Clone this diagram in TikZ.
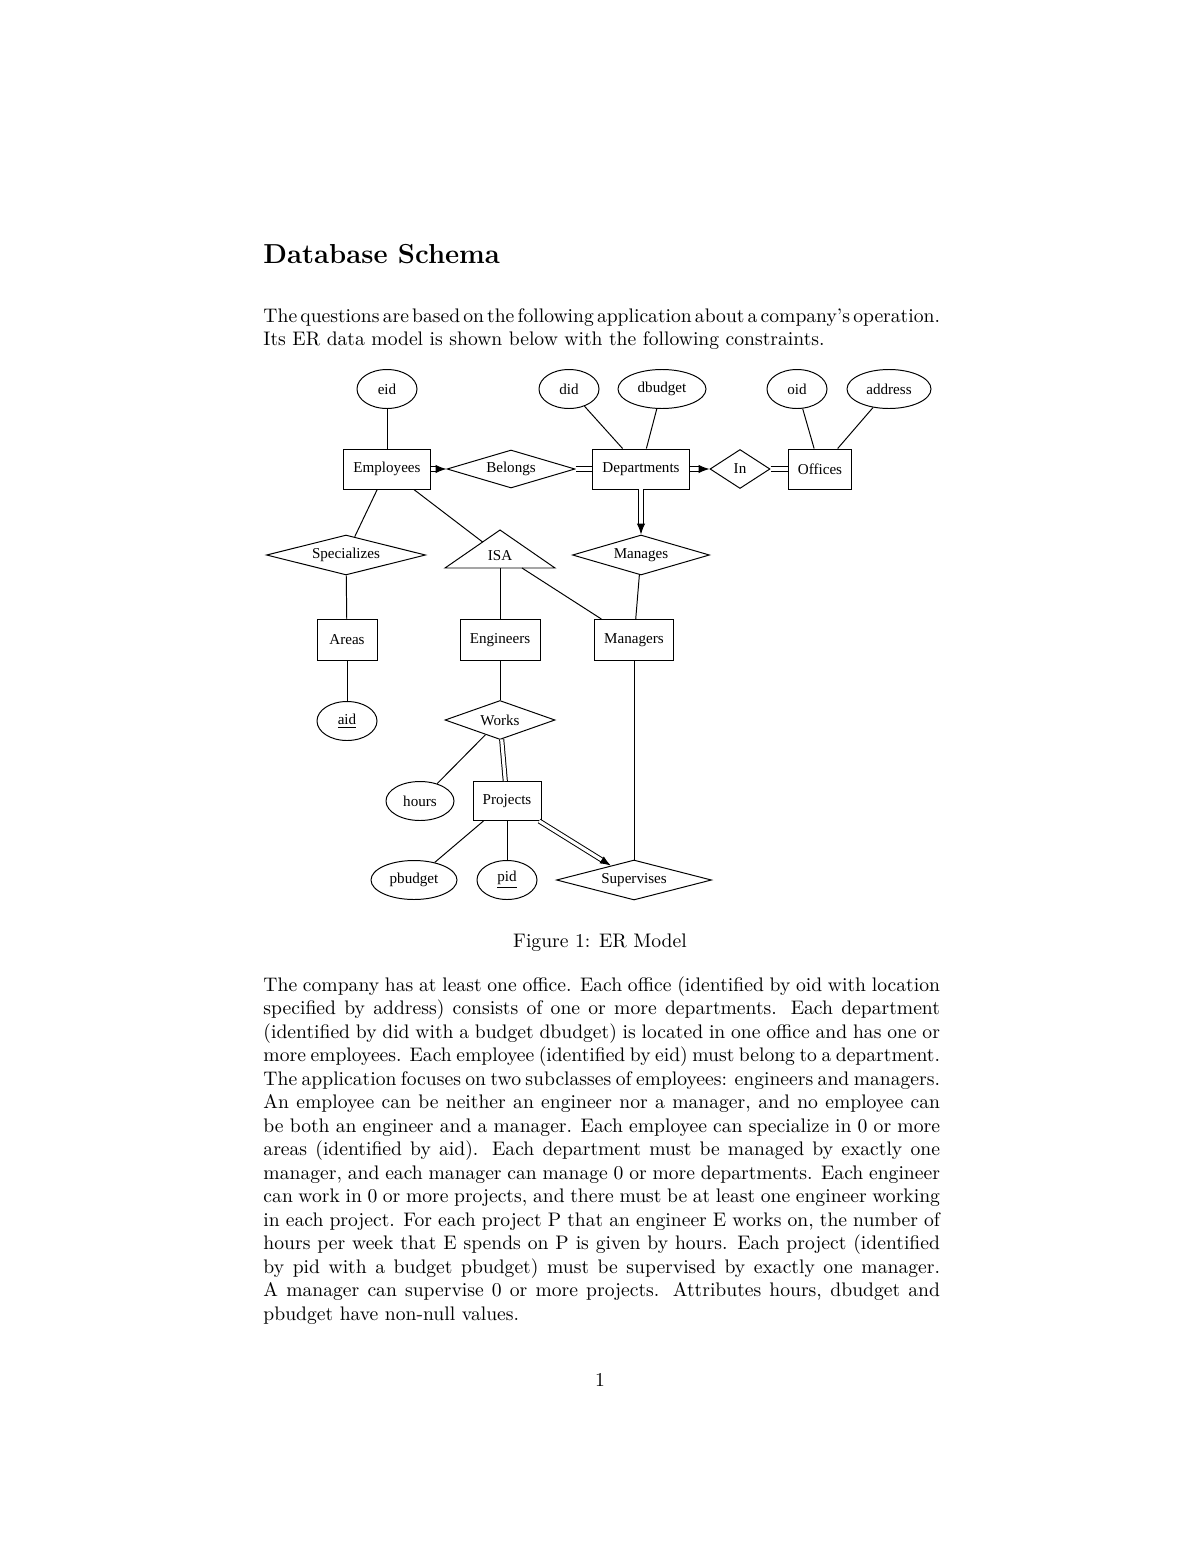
\documentclass[tikz,border=0pt]{standalone}
\usepackage{fontspec}
\newfontfamily\diagfont{Liberation Serif}
\usetikzlibrary{shapes.geometric,arrows.meta}
\newcommand\dgf{\diagfont\fontsize{7.7}{9}\selectfont}
\begin{document}
\begin{tikzpicture}[x=0.51pt,y=-0.51pt,
  every path/.style={line width=0.5pt},
  ent/.style={draw, rectangle, inner sep=0pt, minimum height=40*0.51pt, font=\dgf},
  attr/.style={draw, ellipse, inner sep=0pt, minimum height=39*0.51pt, font=\dgf},
  rel/.style={draw, diamond, aspect=4, inner sep=0pt, minimum height=40*0.51pt, font=\dgf},
  lbl/.style={inner sep=0pt, font=\dgf},
  dbl/.style={double, double distance=1.6pt},
  dblarr/.style={dbl, -{Latex[length=5.5pt,width=4.2pt]}},
  body/.style={inner sep=0pt, font=\fontsize{10}{12}\selectfont}]
\useasboundingbox (0,0) rectangle (1200,1553);

% ---- text ----
\node[anchor=base west, inner sep=0pt, font=\fontsize{14}{17}\selectfont\bfseries] (title) at (263,264) {Database Schema};
\node[body, anchor=base west, text width=345pt, align=justify] (p1) at (263,322)
 {\hbox to 345pt{\spaceskip=1.5pt plus 1pt minus 0.3pt The questions are based on the following application about a company's operation.}\par
  Its ER data model is shown below with the following constraints.};
\node[body, anchor=base] (caption) at (600,947) {Figure 1: ER Model};
\node[body, anchor=base west, text width=345pt, align=justify] (p2) at (263,991)
 {The company has at least one office. Each office (identified by oid with location specified by address) consists of one or more departments. Each department (identified by did with a budget dbudget) is located in one office and has one or more employees. Each employee (identified by eid) must belong to a department. The application focuses on two subclasses of employees: engineers and managers. An employee can be neither an engineer nor a manager, and no employee can be both an engineer and a manager. Each employee can specialize in 0 or more areas (identified by aid). Each department must be managed by exactly one manager, and each manager can manage 0 or more departments. Each engineer can work in 0 or more projects, and there must be at least one engineer working in each project. For each project P that an engineer E works on, the number of hours per week that E spends on P is given by hours. Each project (identified by pid with a budget pbudget) must be supervised by exactly one manager. A manager can supervise 0 or more projects. Attributes hours, dbudget and pbudget have non-null values.};
\node[body, anchor=base] (pagenum) at (600,1386) {1};

% ---- diagram nodes ----
\node[attr, minimum width=60*0.51pt] (eid) at (387,389) {eid};
\node[attr, minimum width=60*0.51pt] (did) at (569,389) {did};
\node[attr, minimum width=88*0.51pt] (dbudget) at (662,389) {dbudget};
\node[attr, minimum width=60*0.51pt] (oid) at (797,389) {oid};
\node[attr, minimum width=84*0.51pt] (address) at (889,389) {address};

\node[ent, minimum width=87*0.51pt] (employees) at (387,469) {Employees};
\node[rel, minimum width=128*0.51pt, minimum height=38*0.51pt] (belongs) at (511,469) {Belongs};
\node[ent, minimum width=97*0.51pt] (departments) at (641,469) {Departments};
\node[rel, aspect=1.5, minimum width=60*0.51pt, minimum height=39*0.51pt] (in) at (740,469) {In};
\node[ent, minimum width=63*0.51pt] (offices) at (820,469) {Offices};

\node[rel, minimum width=159*0.51pt] (specializes) at (346,555) {Specializes};
\draw (500,530) -- (555,568) -- (445,568) -- cycle;
\node[lbl] (isa) at (500,556) {ISA};
\coordinate (isaL) at (482.6,542);
\coordinate (isaB) at (500,568);
\coordinate (isaR) at (522,568);
\node[rel, minimum width=137*0.51pt] (manages) at (641,555) {Manages};

\node[ent, minimum width=60*0.51pt, minimum height=41*0.51pt] (areas) at (347,640) {Areas};
\node[ent, minimum width=80*0.51pt, minimum height=41*0.51pt] (engineers) at (500,640) {Engineers};
\node[ent, minimum width=79*0.51pt, minimum height=41*0.51pt] (managers) at (634,640) {Managers};

\node[attr, minimum width=60*0.51pt] (aid) at (347,721) {\underline{aid}};
\node[rel, minimum width=110*0.51pt, minimum height=39*0.51pt] (works) at (500,720) {Works};

\node[attr, minimum width=68*0.51pt] (hours) at (420,801) {hours};
\node[ent, minimum width=68*0.51pt, minimum height=39*0.51pt] (projects) at (507,801) {Projects};

\node[attr, minimum width=86*0.51pt] (pbudget) at (414,880) {pbudget};
\node[attr, minimum width=60*0.51pt] (pid) at (507,880) {\underline{pid}};
\node[rel, minimum width=155*0.51pt] (supervises) at (634,880) {Supervises};

% ---- connectors ----
\draw (eid) -- (employees);
\draw (did) -- (departments);
\draw (dbudget) -- (departments);
\draw (oid) -- (offices);
\draw (address) -- (offices);
\draw[dblarr] (employees) -- (belongs);
\draw[dbl] (belongs) -- (departments);
\draw[dblarr] (departments) -- (in);
\draw[dbl] (in) -- (offices);
\draw[dblarr] (departments) -- (manages);
\draw (employees) -- (specializes);
\draw (employees) -- (isaL);
\draw (isaB) -- (engineers);
\draw (isaR) -- (managers);
\draw (manages) -- (managers);
\draw (specializes) -- (areas);
\draw (areas) -- (aid);
\draw (engineers) -- (works);
\draw[dbl] (works) -- (projects);
\draw (works) -- (hours);
\draw (projects) -- (pbudget);
\draw (projects) -- (pid);
\draw[dblarr] (projects) -- (supervises);
\draw (managers) -- (supervises);
\end{tikzpicture}
\end{document}
